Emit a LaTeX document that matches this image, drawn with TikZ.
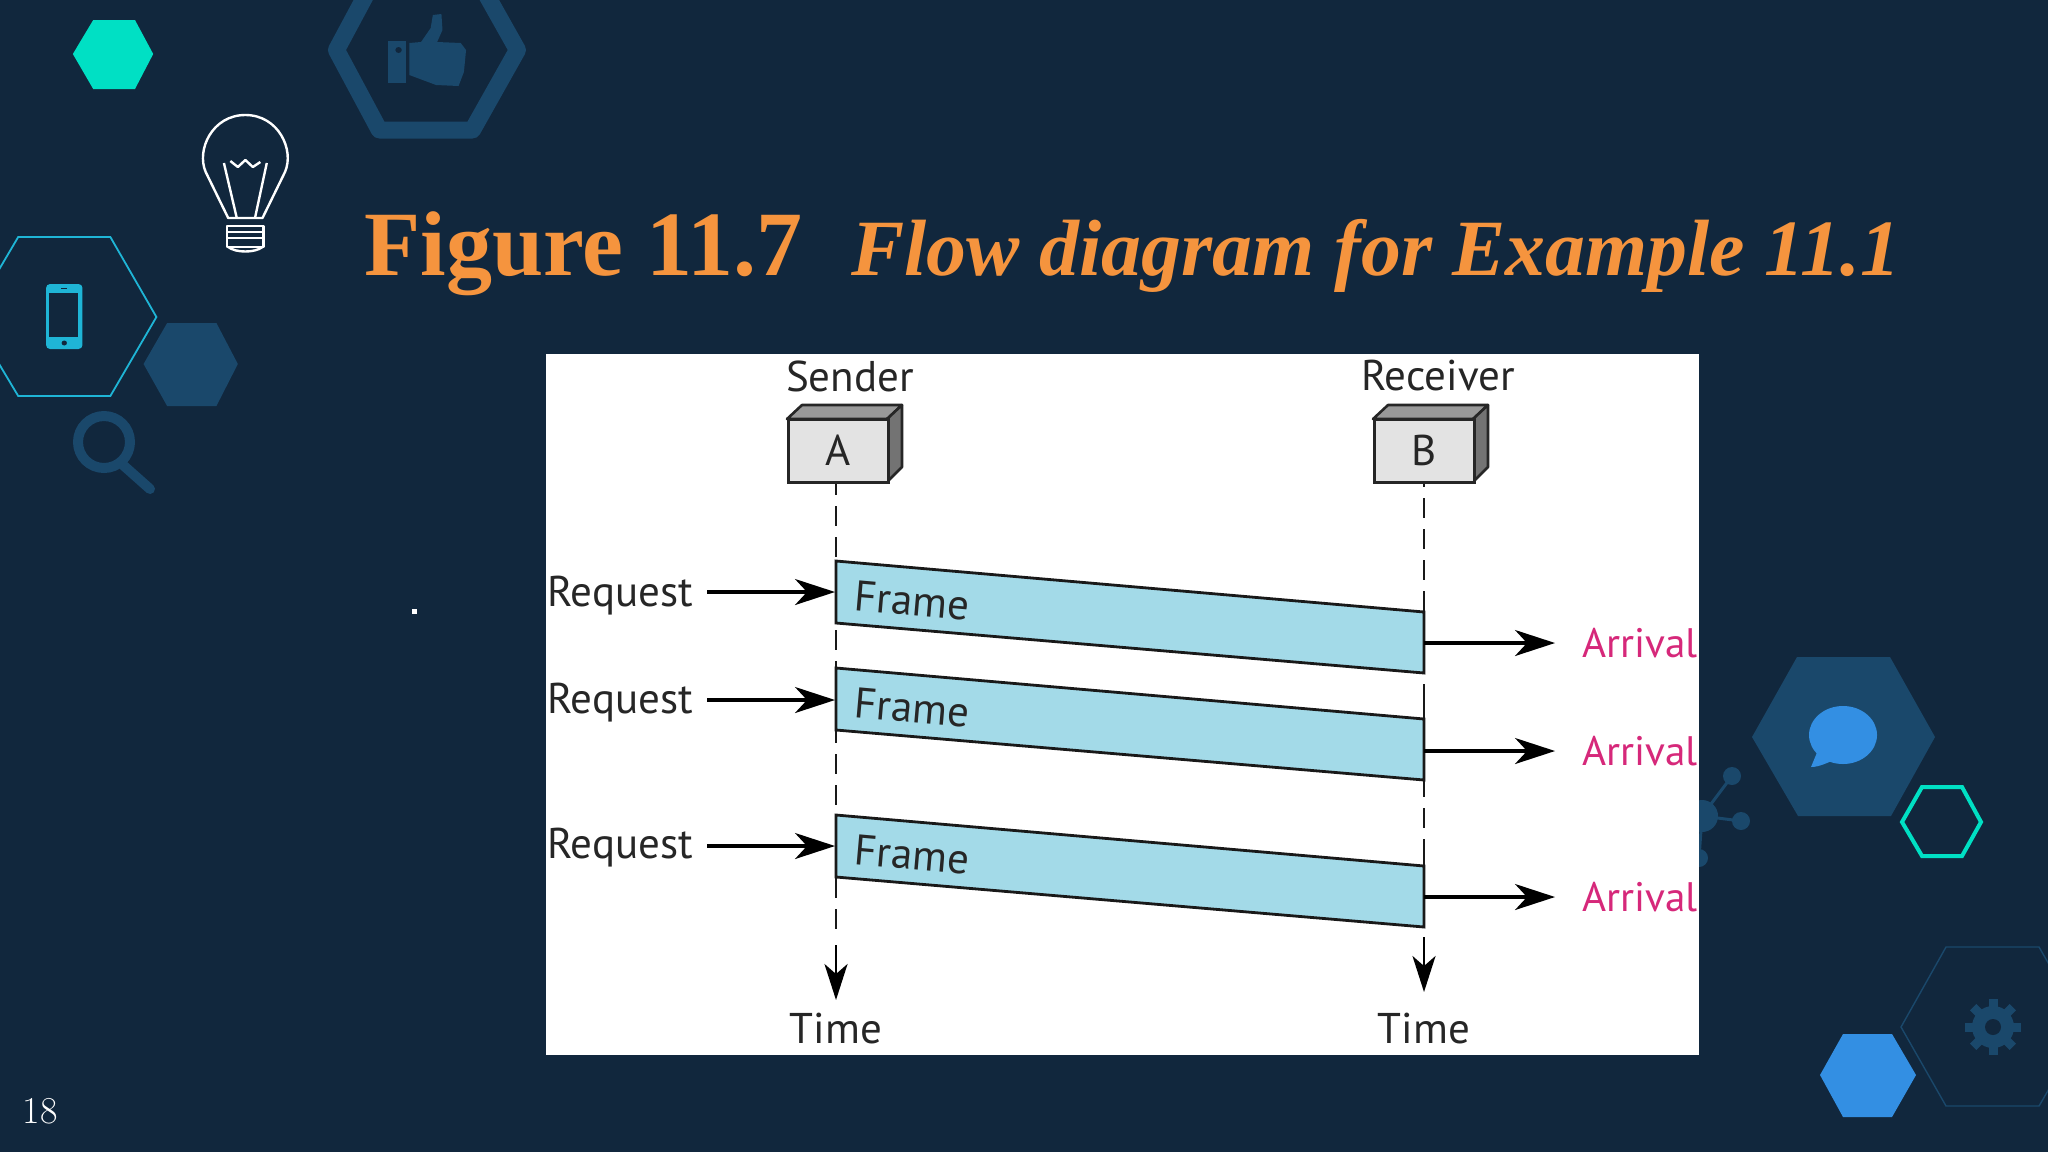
\documentclass[tikz,border=0pt]{standalone}
\usepackage{fontspec}
\usetikzlibrary{arrows.meta}
\newfontfamily\titlefont{Liberation Serif}
\newfontfamily\labelfont{PT Sans}
\definecolor{bgc}{RGB}{17,39,61}
\definecolor{hexdark}{RGB}{26,72,107}
\definecolor{teal1}{RGB}{0,224,196}
\definecolor{cyan1}{RGB}{31,181,214}
\definecolor{blue1}{RGB}{51,143,227}
\definecolor{orange1}{RGB}{245,148,62}
\definecolor{framec}{RGB}{163,218,232}
\definecolor{crim}{RGB}{214,40,122}
\tikzset{
 lab/.style={font=\labelfont\fontsize{21.5pt}{24pt}\selectfont,text=black!85,inner sep=0pt},
 arrlab/.style={lab,font=\labelfont\fontsize{20.6pt}{24pt}\selectfont,text=crim},
 flow/.style={line width=1.6pt,-{Stealth[length=20pt,width=13pt,inset=6pt]},black},
 life/.style={line width=1.4pt,black!90,dash pattern=on 10pt off 5.5pt},
 lifehead/.style={line width=1.4pt,black,-{Stealth[length=18pt,width=11.5pt,inset=5pt]}},
 framebox/.style={fill=framec,draw=black!90,line width=1.4pt},
 front/.style={fill=black!11,draw=black!85,line width=1.3pt,font=\labelfont\fontsize{21.5pt}{24pt}\selectfont,text=black!85},
 topf/.style={fill=black!40,draw=black!85,line width=1.3pt,line join=round},
 sidef/.style={fill=black!55,draw=black!85,line width=1.3pt,line join=round},
 bulb/.style={draw=white,line width=1.2pt,line join=round},
}
\begin{document}
\begin{tikzpicture}[x=0.5pt,y=-0.5pt]
\useasboundingbox (0,0) rectangle (2048,1152);
\fill[bgc] (0,0) rectangle (2048,1152);
\clip (0,0) rectangle (2048,1152);
\begin{scope}[xscale=1.0714]
% teal hexagon
\fill[teal1] (68,54)--(87,20)--(126,20)--(143,54)--(126,89)--(87,89)--cycle;
% thumb hexagon
\draw[hexdark,line width=8.5pt,line join=round] (314,50)--(354,-30)--(441,-30)--(483,50)--(441,130)--(354,130)--cycle;
\fill[hexdark] (362,41) rectangle (379,83);
\fill[bgc] (372,50) circle (3);
\fill[hexdark] (382,43)--(393,42)--(402,28)--(404,15)--(412,14)--(413,30)--(408,42)--(430,43)--(435,50)--(433,72)--(428,86)--(407,85)--(382,75)--cycle;
% bulb
\draw[bulb] (213,218)--(192,172) .. controls (183,150) and (198,115) .. (229,115) .. controls (260,115) and (275,150) .. (266,172)--(245,218)--cycle;
\draw[bulb] (209,163)--(221,218) (249,163)--(238,218);
\draw[bulb] (215,161)--(222,167)--(229,160)--(236,167)--(243,162);
\draw[bulb] (212,226) rectangle (246,247);
\draw[bulb] (212,232)--(246,232) (212,238)--(246,238);
\draw[bulb] (213,247) .. controls (220,253) and (238,253) .. (245,247);
% phone hexagon
\draw[cyan1,line width=0.9pt] (17,237)--(103,237)--(146,317)--(103,396)--(17,396)--(-27,317)--cycle;
\fill[cyan1,rounded corners=2pt] (43,284) rectangle (77,349);
\fill[bgc] (46,293) rectangle (73,337);
\fill[bgc] (60,343) circle (2.5);
\fill[bgc] (57,287.5) rectangle (63,289);
% dark hexagon
\fill[hexdark] (134,364)--(156,323)--(202,323)--(222,364)--(202,406)--(156,406)--cycle;
\end{scope}
% magnifier
\draw[hexdark,line width=5pt] (104,442) circle (26);
\draw[hexdark,line width=5pt,line cap=round] (123,465)--(150,489);
% big right hexagon
\fill[hexdark] (1752,737)--(1797,657)--(1890,657)--(1935,737)--(1891,816)--(1798,816)--cycle;
\fill[blue1] (1843,735) ellipse (34 and 29);
\fill[blue1] (1818,750)--(1811,767) .. controls (1820,767) and (1828,762) .. (1835,760)--cycle;
% teal outline hexagon
\draw[teal1,line width=2pt,line join=miter] (1902,822)--(1922,787)--(1962,787)--(1981,822)--(1962,856)--(1922,856)--cycle;
% blue hexagon
\fill[blue1] (1820,1075)--(1843,1034)--(1892,1034)--(1916,1075)--(1892,1117)--(1843,1117)--cycle;
% gear hexagon
\draw[hexdark,line width=0.7pt] (1901,1027)--(1946,947)--(2039,947)--(2085,1027)--(2039,1106)--(1946,1106)--cycle;
\fill[hexdark] (1993,1027) circle (21);
\foreach \a in {0,45,...,315}{\draw[hexdark,line width=4.5pt] (1993,1027)--++(\a:28);}
\fill[bgc] (1993,1027) circle (8);
% molecule
\fill[hexdark] (1702,816) circle (16) (1732,776) circle (9) (1741,821) circle (9) (1699,858) circle (9);
\draw[hexdark,line width=1.5pt] (1702,816)--(1732,776) (1702,816)--(1741,821) (1702,816)--(1699,858);
% title
\node[name=t1,anchor=base west,text=orange1,inner sep=0pt,font=\titlefont\bfseries\fontsize{46pt}{50pt}\selectfont] at (364,275) {Figure 11.7};
\node[name=t2,anchor=base west,text=orange1,inner sep=0pt,font=\titlefont\bfseries\itshape\fontsize{39.9pt}{44pt}\selectfont] at (851,275) {Flow diagram for Example 11.1};
\fill[white] (412,609) rectangle (417,614);
% page number
\node[name=pg,anchor=center,text=white,inner sep=0pt,font=\fontsize{19pt}{21pt}\selectfont\addfontfeatures{Numbers=OldStyle,FakeBold=0.4}] at (40,1111) {18};
% white panel
\fill[white] (546,354) rectangle (1699,1055);
% coordinates
\coordinate (L0) at (836,482);
\coordinate (L1) at (836,1000);
\coordinate (R0) at (1424,482);
\coordinate (R1) at (1424,992);
% lifelines
\draw[life,dash phase=3.5pt] (L0)--(836,935);
\draw[lifehead] (836,945)--(L1);
\draw[life,dash phase=7.5pt] (R0)--(1424,925);
\draw[lifehead] (1424,937)--(R1);
% boxes
\foreach \n/\x/\t in {A/787/A,B/1373/B}{
 \draw[topf] (\x,419)--(\x+15,405)--(\x+115,405)--(\x+100,419)--cycle;
 \draw[sidef] (\x+100,419)--(\x+115,405)--(\x+115,467)--(\x+100,482)--cycle;
 \node[front,name=box\n,anchor=north west,minimum width=50pt,minimum height=31.5pt,inner sep=0pt,text depth=0pt] at (\x,418) {\raisebox{1pt}{\t}};
}
\node[lab,name=sender] at (850,376) {Sender};
\node[lab,name=receiver] at (1438,376) {Receiver};
% frames
\foreach \i/\d/\rq/\ar/\rl in {1/0/592/643/596,2/107/700/751/703,3/254/846/897/848}{
 \draw[framebox] (836,561+\d)--(1424,612+\d)--(1424,673+\d)--(836,623+\d)--cycle;
 \node[lab,name=fr\i,rotate=-5] at (912,601+\d) {Frame};
 \node[lab,name=req\i,anchor=west] at (547,\rl) {Request};
 \node[arrlab,name=arr\i,anchor=east] at (1698,\ar) {Arrival};
 \coordinate (reqs\i) at (707,\rq);
 \coordinate (reqe\i) at (835,\rq);
 \coordinate (arrs\i) at (1424,\ar);
 \coordinate (arre\i) at (1555,\ar);
 \draw[flow] (reqs\i)--(reqe\i);
 \draw[flow] (arrs\i)--(arre\i);
 \draw[line width=1.4pt,black!90] (1424,593+\d)--(1424,612+\d);
}
\node[lab,name=time1] at (836,1029) {Time};
\node[lab,name=time2] at (1424,1029) {Time};
\end{tikzpicture}
\end{document}
